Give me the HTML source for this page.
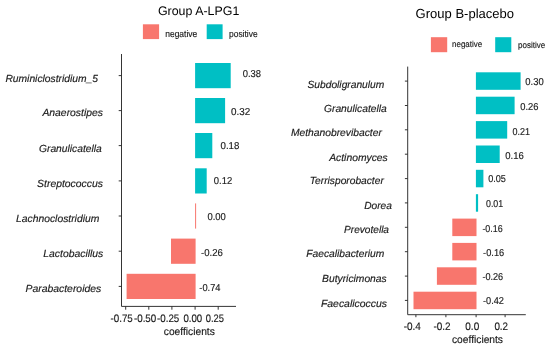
<!DOCTYPE html><html><head><meta charset="utf-8"><title>Coefficients</title>
<style>html,body{margin:0;padding:0;background:#fff;overflow:hidden}svg{display:block}text{font-family:"Liberation Sans",sans-serif;fill:#1c1c1c;text-rendering:geometricPrecision;stroke:#111;stroke-width:.15px}.i{font-style:italic}.t{fill:#000;stroke:none}</style></head><body>
<svg width="550" height="346" viewBox="0 0 550 346">
<rect width="550" height="346" fill="#fff"/>
<text x="157.9" y="15.4" font-size="12.4" textLength="81.4" lengthAdjust="spacingAndGlyphs" class="t">Group A-LPG1</text>
<rect x="142.9" y="24.3" width="16.2" height="14.8" fill="#F8766D"/>
<rect x="206.7" y="24.3" width="15.9" height="14.8" fill="#00BFC4"/>
<text x="165.2" y="36.5" font-size="9.4" textLength="32.1" lengthAdjust="spacingAndGlyphs">negative</text>
<text x="229.0" y="36.5" font-size="9.4" textLength="28.6" lengthAdjust="spacingAndGlyphs">positive</text>
<path d="M121.5 54V306.4H236" fill="none" stroke="#2a2a2a" stroke-width="0.95"/>
<path d="M118.7 75.6H121.5" stroke="#2a2a2a" stroke-width="0.95"/>
<rect x="195.1" y="63.0" width="35.6" height="25.2" fill="#00BFC4"/>
<path d="M118.7 110.6H121.5" stroke="#2a2a2a" stroke-width="0.95"/>
<rect x="195.1" y="98.0" width="30.0" height="25.2" fill="#00BFC4"/>
<path d="M118.7 145.6H121.5" stroke="#2a2a2a" stroke-width="0.95"/>
<rect x="195.1" y="133.0" width="17.2" height="25.2" fill="#00BFC4"/>
<path d="M118.7 180.9H121.5" stroke="#2a2a2a" stroke-width="0.95"/>
<rect x="195.1" y="168.3" width="11.6" height="25.2" fill="#00BFC4"/>
<path d="M118.7 216.0H121.5" stroke="#2a2a2a" stroke-width="0.95"/>
<rect x="195.1" y="203.4" width="1" height="25.2" fill="#F8766D"/>
<path d="M118.7 251.2H121.5" stroke="#2a2a2a" stroke-width="0.95"/>
<rect x="171.0" y="238.6" width="24.6" height="25.2" fill="#F8766D"/>
<path d="M118.7 286.4H121.5" stroke="#2a2a2a" stroke-width="0.95"/>
<rect x="126.6" y="273.8" width="69.0" height="25.2" fill="#F8766D"/>
<path d="M125.7 306.4V309.7" stroke="#2a2a2a" stroke-width="0.95"/>
<path d="M148.8 306.4V309.7" stroke="#2a2a2a" stroke-width="0.95"/>
<path d="M171.9 306.4V309.7" stroke="#2a2a2a" stroke-width="0.95"/>
<path d="M195.1 306.4V309.7" stroke="#2a2a2a" stroke-width="0.95"/>
<path d="M218.2 306.4V309.7" stroke="#2a2a2a" stroke-width="0.95"/>
<text x="110.5" y="322.1" font-size="10.9" textLength="22.3" lengthAdjust="spacingAndGlyphs">-0.75</text>
<text x="133.9" y="322.1" font-size="10.9" textLength="22.4" lengthAdjust="spacingAndGlyphs">-0.50</text>
<text x="157.0" y="322.1" font-size="10.9" textLength="22.3" lengthAdjust="spacingAndGlyphs">-0.25</text>
<text x="183.4" y="322.1" font-size="10.9" textLength="18.8" lengthAdjust="spacingAndGlyphs">0.00</text>
<text x="205.8" y="322.1" font-size="10.9" textLength="18.2" lengthAdjust="spacingAndGlyphs">0.25</text>
<text x="163.8" y="334.6" font-size="10.7" textLength="51.0" lengthAdjust="spacingAndGlyphs">coefficients</text>
<text x="5.4" y="81.6" font-size="10.3" textLength="92.6" lengthAdjust="spacingAndGlyphs" class="i">Ruminiclostridium_5</text>
<text x="42.4" y="116.0" font-size="10.3" textLength="60.6" lengthAdjust="spacingAndGlyphs" class="i">Anaerostipes</text>
<text x="39.0" y="151.7" font-size="10.3" textLength="62.7" lengthAdjust="spacingAndGlyphs" class="i">Granulicatella</text>
<text x="37.1" y="187.0" font-size="10.3" textLength="65.9" lengthAdjust="spacingAndGlyphs" class="i">Streptococcus</text>
<text x="16.1" y="221.7" font-size="10.3" textLength="83.2" lengthAdjust="spacingAndGlyphs" class="i">Lachnoclostridium</text>
<text x="43.3" y="257.0" font-size="10.3" textLength="60.0" lengthAdjust="spacingAndGlyphs" class="i">Lactobacillus</text>
<text x="25.5" y="292.0" font-size="10.3" textLength="75.7" lengthAdjust="spacingAndGlyphs" class="i">Parabacteroides</text>
<text x="242.7" y="77.2" font-size="10" textLength="18.3" lengthAdjust="spacingAndGlyphs">0.38</text>
<text x="231.0" y="115.2" font-size="10" textLength="19.2" lengthAdjust="spacingAndGlyphs">0.32</text>
<text x="220.5" y="149.2" font-size="10" textLength="18.9" lengthAdjust="spacingAndGlyphs">0.18</text>
<text x="213.8" y="184.0" font-size="10" textLength="18.4" lengthAdjust="spacingAndGlyphs">0.12</text>
<text x="207.4" y="220.3" font-size="10" textLength="18.4" lengthAdjust="spacingAndGlyphs">0.00</text>
<text x="201.0" y="255.6" font-size="10" textLength="21.8" lengthAdjust="spacingAndGlyphs">-0.26</text>
<text x="199.3" y="290.8" font-size="10" textLength="21.2" lengthAdjust="spacingAndGlyphs">-0.74</text>
<text x="415.6" y="18.3" font-size="13.1" textLength="98.4" lengthAdjust="spacingAndGlyphs" class="t">Group B-placebo</text>
<rect x="430.9" y="37.2" width="16.3" height="15" fill="#F8766D"/>
<rect x="495.2" y="37.2" width="16.1" height="15" fill="#00BFC4"/>
<text x="452.0" y="47.1" font-size="8.7" textLength="30.2" lengthAdjust="spacingAndGlyphs">negative</text>
<text x="518.0" y="48.4" font-size="8.7" textLength="27.2" lengthAdjust="spacingAndGlyphs">positive</text>
<path d="M407.7 66.6V314.7H525.8" fill="none" stroke="#2a2a2a" stroke-width="0.95"/>
<path d="M404.9 81.1H407.7" stroke="#2a2a2a" stroke-width="0.95"/>
<rect x="475.90000000000003" y="72.3" width="44.7" height="17.5" fill="#00BFC4"/>
<path d="M404.9 105.5H407.7" stroke="#2a2a2a" stroke-width="0.95"/>
<rect x="475.90000000000003" y="96.7" width="38.7" height="17.5" fill="#00BFC4"/>
<path d="M404.9 129.8H407.7" stroke="#2a2a2a" stroke-width="0.95"/>
<rect x="475.90000000000003" y="121.1" width="31.3" height="17.5" fill="#00BFC4"/>
<path d="M404.9 154.2H407.7" stroke="#2a2a2a" stroke-width="0.95"/>
<rect x="475.90000000000003" y="145.5" width="23.8" height="17.5" fill="#00BFC4"/>
<path d="M404.9 178.6H407.7" stroke="#2a2a2a" stroke-width="0.95"/>
<rect x="475.90000000000003" y="169.8" width="7.5" height="17.5" fill="#00BFC4"/>
<path d="M404.9 202.9H407.7" stroke="#2a2a2a" stroke-width="0.95"/>
<rect x="475.90000000000003" y="194.2" width="2.2" height="17.5" fill="#00BFC4"/>
<path d="M404.9 227.3H407.7" stroke="#2a2a2a" stroke-width="0.95"/>
<rect x="452.3" y="218.6" width="24.2" height="17.5" fill="#F8766D"/>
<path d="M404.9 251.7H407.7" stroke="#2a2a2a" stroke-width="0.95"/>
<rect x="452.3" y="242.9" width="24.2" height="17.5" fill="#F8766D"/>
<path d="M404.9 276.1H407.7" stroke="#2a2a2a" stroke-width="0.95"/>
<rect x="436.9" y="267.3" width="39.6" height="17.5" fill="#F8766D"/>
<path d="M404.9 300.4H407.7" stroke="#2a2a2a" stroke-width="0.95"/>
<rect x="413.5" y="291.7" width="63.0" height="17.5" fill="#F8766D"/>
<path d="M415.9 314.7V317.2" stroke="#2a2a2a" stroke-width="0.95"/>
<path d="M445.9 314.7V317.2" stroke="#2a2a2a" stroke-width="0.95"/>
<path d="M476.1 314.7V317.2" stroke="#2a2a2a" stroke-width="0.95"/>
<path d="M505.1 314.7V317.2" stroke="#2a2a2a" stroke-width="0.95"/>
<text x="403.7" y="329.6" font-size="10.9" textLength="17.2" lengthAdjust="spacingAndGlyphs">-0.4</text>
<text x="433.4" y="329.6" font-size="10.9" textLength="17.2" lengthAdjust="spacingAndGlyphs">-0.2</text>
<text x="465.3" y="329.6" font-size="10.9" textLength="13.9" lengthAdjust="spacingAndGlyphs">0.0</text>
<text x="494.4" y="329.6" font-size="10.9" textLength="13.7" lengthAdjust="spacingAndGlyphs">0.2</text>
<text x="452.0" y="342.5" font-size="10.7" textLength="51.0" lengthAdjust="spacingAndGlyphs">coefficients</text>
<text x="307.5" y="87.7" font-size="10.3" textLength="76.8" lengthAdjust="spacingAndGlyphs" class="i">Subdoligranulum</text>
<text x="324.0" y="112.0" font-size="10.3" textLength="62.7" lengthAdjust="spacingAndGlyphs" class="i">Granulicatella</text>
<text x="290.9" y="136.1" font-size="10.3" textLength="91.0" lengthAdjust="spacingAndGlyphs" class="i">Methanobrevibacter</text>
<text x="329.2" y="160.7" font-size="10.3" textLength="58.6" lengthAdjust="spacingAndGlyphs" class="i">Actinomyces</text>
<text x="309.8" y="184.4" font-size="10.3" textLength="74.0" lengthAdjust="spacingAndGlyphs" class="i">Terrisporobacter</text>
<text x="364.2" y="208.5" font-size="10.3" textLength="27.7" lengthAdjust="spacingAndGlyphs" class="i">Dorea</text>
<text x="344.1" y="233.1" font-size="10.3" textLength="44.9" lengthAdjust="spacingAndGlyphs" class="i">Prevotella</text>
<text x="306.3" y="257.4" font-size="10.3" textLength="78.0" lengthAdjust="spacingAndGlyphs" class="i">Faecalibacterium</text>
<text x="322.1" y="282.1" font-size="10.3" textLength="64.6" lengthAdjust="spacingAndGlyphs" class="i">Butyricimonas</text>
<text x="320.9" y="306.7" font-size="10.3" textLength="66.2" lengthAdjust="spacingAndGlyphs" class="i">Faecalicoccus</text>
<text x="525.3" y="85.4" font-size="10" textLength="18.4" lengthAdjust="spacingAndGlyphs">0.30</text>
<text x="520.2" y="110.2" font-size="10" textLength="18.2" lengthAdjust="spacingAndGlyphs">0.26</text>
<text x="512.6" y="134.6" font-size="10" textLength="17.5" lengthAdjust="spacingAndGlyphs">0.21</text>
<text x="505.3" y="159.0" font-size="10" textLength="18.5" lengthAdjust="spacingAndGlyphs">0.16</text>
<text x="488.2" y="181.5" font-size="10" textLength="17.7" lengthAdjust="spacingAndGlyphs">0.05</text>
<text x="486.0" y="206.7" font-size="10" textLength="17.2" lengthAdjust="spacingAndGlyphs">0.01</text>
<text x="482.4" y="231.9" font-size="10" textLength="20.3" lengthAdjust="spacingAndGlyphs">-0.16</text>
<text x="483.1" y="255.5" font-size="10" textLength="21.1" lengthAdjust="spacingAndGlyphs">-0.16</text>
<text x="482.4" y="280.1" font-size="10" textLength="20.8" lengthAdjust="spacingAndGlyphs">-0.26</text>
<text x="483.0" y="303.7" font-size="10" textLength="21.0" lengthAdjust="spacingAndGlyphs">-0.42</text>
</svg></body></html>
